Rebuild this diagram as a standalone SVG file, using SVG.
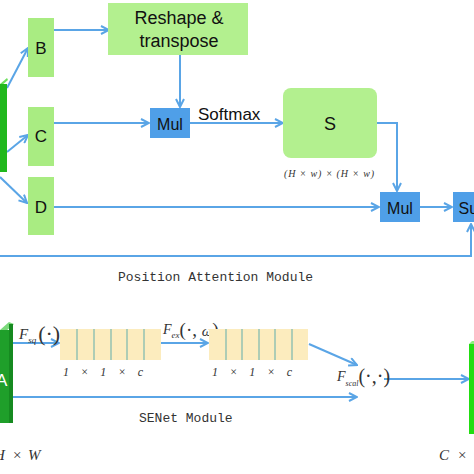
<svg xmlns="http://www.w3.org/2000/svg" width="474" height="474" viewBox="0 0 474 474">
<defs>
<style>
.ln{fill:none;stroke:#5aa5e6;stroke-width:2}
.lg{fill:#a9ec82}
.mul{fill:#4f9fe8}
.t{font-family:"Liberation Sans",Arial,sans-serif;fill:#111}
.m{font-family:"Liberation Serif","Times New Roman",serif;font-style:italic;fill:#333}
.mono{font-family:"Liberation Mono","Courier New",monospace;font-size:13px;fill:#333}
</style>
<marker id="ah" viewBox="0 0 10 10" refX="9" refY="5" markerWidth="10" markerHeight="10" markerUnits="userSpaceOnUse" orient="auto">
<path d="M1,1 L9,5 L1,9" fill="none" stroke="#5aa5e6" stroke-width="2"/>
</marker>
</defs>
<rect width="474" height="474" fill="#fff"/>

<g id="connectors">
<line class="ln" x1="7" y1="88" x2="28" y2="48" marker-end="url(#ah)"/>
<line class="ln" x1="7" y1="152" x2="28" y2="135" marker-end="url(#ah)"/>
<line class="ln" x1="0" y1="177" x2="27" y2="203" marker-end="url(#ah)"/>
<line class="ln" x1="54" y1="30" x2="109" y2="30" marker-end="url(#ah)"/>
<line class="ln" x1="54" y1="123" x2="149" y2="123" marker-end="url(#ah)"/>
<line class="ln" x1="180" y1="55" x2="180" y2="107" marker-end="url(#ah)"/>
<line class="ln" x1="190" y1="123" x2="283" y2="123" marker-end="url(#ah)"/>
<polyline class="ln" points="377,123 397,123 397,191" marker-end="url(#ah)"/>
<line class="ln" x1="54" y1="207" x2="379" y2="207" marker-end="url(#ah)"/>
<line class="ln" x1="420" y1="207" x2="452" y2="207" marker-end="url(#ah)"/>
<polyline class="ln" points="0,256 471,256 471,224" marker-end="url(#ah)"/>
<line class="ln" x1="13" y1="343" x2="59" y2="343" marker-end="url(#ah)"/>
<line class="ln" x1="161" y1="343" x2="208" y2="343" marker-end="url(#ah)"/>
<line class="ln" x1="309" y1="344" x2="357" y2="365" marker-end="url(#ah)"/>
<line class="ln" x1="13" y1="397" x2="357" y2="397" marker-end="url(#ah)"/>
<line class="ln" x1="384" y1="379" x2="469" y2="379" marker-end="url(#ah)"/>
</g>

<g id="A-top">
<polygon points="0,84 7,78 8,80 1,86" fill="#6fe05f"/>
<rect x="0" y="84" width="7" height="88" fill="#20b81c"/>
</g>
<g id="B"><rect class="lg" x="28" y="18" width="26" height="59"/><text class="t" x="41" y="54" font-size="17" text-anchor="middle">B</text></g>
<g id="C"><rect class="lg" x="28" y="107" width="26" height="59"/><text class="t" x="41" y="142" font-size="17" text-anchor="middle">C</text></g>
<g id="D"><rect class="lg" x="28" y="177" width="26" height="58"/><text class="t" x="41" y="213" font-size="17" text-anchor="middle">D</text></g>
<g id="reshape"><rect x="108" y="3" width="140" height="52" fill="#b3f08f"/>
<text class="t" x="179" y="24" font-size="18" text-anchor="middle">Reshape &amp;</text>
<text class="t" x="179" y="47" font-size="18" text-anchor="middle">transpose</text></g>
<g id="mul1"><rect class="mul" x="150" y="108" width="40" height="30"/><text class="t" x="170" y="130" font-size="16" text-anchor="middle">Mul</text></g>
<g id="softmax"><text class="t" x="198" y="120" font-size="17">Softmax</text></g>
<g id="S"><rect x="283" y="88" width="94" height="70" rx="8" fill="#b3f08f"/><text class="t" x="330" y="130" font-size="18" text-anchor="middle">S</text>
<text class="m" x="284" y="177" font-size="10" textLength="90" lengthAdjust="spacing">(H × w) × (H × w)</text></g>
<g id="mul2"><rect class="mul" x="380" y="192" width="40" height="30"/><text class="t" x="400" y="214" font-size="16" text-anchor="middle">Mul</text></g>
<g id="sum"><rect class="mul" x="453" y="192" width="44" height="30"/><text class="t" x="475" y="214" font-size="16" text-anchor="middle">Sum</text></g>
<g id="pam-label"><text class="mono" x="118" y="281">Position Attention Module</text></g>

<g id="A-bottom">
<polygon points="0,330 9,322 14,324 5,332" fill="#7ad97a"/>
<rect x="0" y="330" width="13" height="93" fill="#1f9f2a"/>
<rect x="9" y="324" width="4" height="99" fill="#168a20"/>
<text x="-4" y="386" font-family="Liberation Sans,Arial,sans-serif" font-size="17" fill="#fff">A</text>
</g>
<g id="fsq"><text class="m" x="19" y="339" font-size="15">F<tspan font-size="9" dy="4">sq</tspan><tspan font-style="normal" font-size="22" dy="-2" dx="2">(·)</tspan></text></g>
<g id="bar1">
<rect x="60" y="329" width="101" height="31" fill="#fcecbe"/>
<path d="M77,329V360M94,329V360M111,329V360M127,329V360M144,329V360" stroke="#7ab8b0" stroke-width="1.2"/>
<text class="m" x="63" y="376" font-size="12" font-style="normal" textLength="80" lengthAdjust="spacing">1 × 1 × <tspan font-style="italic">c</tspan></text>
</g>
<g id="fex"><text class="m" x="163" y="334" font-size="14">F<tspan font-size="9" dy="4">ex</tspan><tspan font-style="normal" font-size="19" dy="-2">(·, </tspan><tspan font-size="15">ω</tspan><tspan font-style="normal" font-size="19">)</tspan></text></g>
<g id="bar2">
<rect x="209" y="329" width="99" height="31" fill="#fcecbe"/>
<path d="M226,329V360M242,329V360M259,329V360M275,329V360M292,329V360" stroke="#7ab8b0" stroke-width="1.2"/>
<text class="m" x="212" y="376" font-size="12" font-style="normal" textLength="80" lengthAdjust="spacing">1 × 1 × <tspan font-style="italic">c</tspan></text>
</g>
<g id="fscale"><text class="m" x="337" y="381" font-size="14">F<tspan font-size="8" dy="5">scal</tspan><tspan font-style="normal" font-size="20" dy="-3">(·,·)</tspan></text></g>
<g id="out"><rect x="469" y="344" width="6" height="90" fill="#22dd11"/><polygon points="469,344 472,341 475,341 475,344" fill="#8ef07e"/></g>
<g id="senet-label"><text class="mono" x="139" y="422">SENet Module</text></g>
<g id="hw"><text class="m" x="-6" y="460" font-size="15">H<tspan x="13" font-style="normal">×</tspan><tspan x="28">W</tspan></text></g>
<g id="chw"><text class="m" x="439" y="460" font-size="15">C<tspan x="458" font-style="normal">×</tspan><tspan x="476">H × W</tspan></text></g>
</svg>
